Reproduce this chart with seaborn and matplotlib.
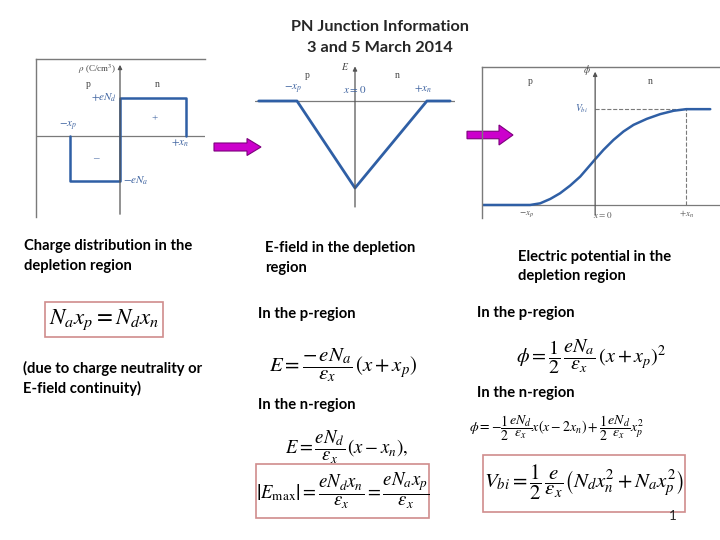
import matplotlib
matplotlib.use("Agg")
import matplotlib.pyplot as plt
import seaborn as sns
from matplotlib.patches import FancyArrow, Rectangle

# charge density (x in units of x_p, rho in units of eN_d)
rho_x = [-1.0, -1.0, 0.0, 0.0, 1.32, 1.32]
rho_y = [0.0, -1.18, -1.18, 1.0, 1.0, 0.0]

# electric field (x in units of x_p, E in units of |E_max|)
e_x = [-1.66, -1.0, 0.0, 1.24, 1.64]
e_y = [0.0, 0.0, -1.0, 0.0, 0.0]

# potential (phi in units of V_bi)
phi_x = [-1.72, -1.0, -0.846, -0.69, -0.54, -0.385, -0.23, -0.128, 0.0, 0.128,
         0.282, 0.436, 0.59, 0.795, 1.0, 1.205, 1.4, 1.77]
phi_y = [0.0, 0.0, 0.017, 0.063, 0.122, 0.202, 0.296, 0.376, 0.477, 0.575,
         0.679, 0.767, 0.836, 0.899, 0.948, 0.983, 1.0, 1.0]

sns.set_theme(style="white")
plt.rcParams['font.family'] = ['Lato', 'DejaVu Sans']
plt.rcParams['mathtext.fontset'] = 'stix'

BLUE = '#2f5fa5'
LBLUE = '#3e63a0'
GRAY = '#7a7a7a'
BOX = '#d08c8c'
SERIF = 'Liberation Serif'

fig = plt.figure(figsize=(7.2, 5.4), dpi=100)
fig.patch.set_facecolor('white')

# overlay in pixel coordinates for slide text, arrows and boxes
ov = fig.add_axes([0, 0, 1, 1])
ov.set_xlim(0, 720)
ov.set_ylim(540, 0)
ov.axis('off')


def px_axes(left, top, right, bottom):
    ax = fig.add_axes([left / 720, 1 - bottom / 540, (right - left) / 720, (bottom - top) / 540])
    ax.set_facecolor('none')
    ax.set_xticks([])
    ax.set_yticks([])
    for s in ax.spines.values():
        s.set_visible(False)
    return ax


def up_arrow(ax, x, y0, y1):
    ax.annotate('', xy=(x, y1), xytext=(x, y0),
                arrowprops=dict(arrowstyle='-|>', color='#555555', lw=0.9, mutation_scale=6))


# ---------------------------------------------------------------- charge
ax1 = px_axes(36, 59, 205, 217)
ax1.set_xlim(-1.68, 1.70)
ax1.set_ylim(-2.13, 2.03)
for s in ['left', 'top']:
    ax1.spines[s].set_visible(True)
    ax1.spines[s].set_color(GRAY)
    ax1.spines[s].set_linewidth(1)
ax1.axhline(0, color=GRAY, lw=0.9)
up_arrow(ax1, 0, -2.13, 1.95)
sns.lineplot(x=rho_x, y=rho_y, sort=False, estimator=None, color=BLUE, lw=1.8, ax=ax1)
ax1.text(-0.08, 1.76, r'$\rho$ (C/cm$^3$)', ha='right', va='center', fontsize=6.5, family=SERIF, color='#444444')
ax1.text(-0.64, 1.37, 'p', ha='center', va='center', fontsize=7, family=SERIF, color='#444444')
ax1.text(0.74, 1.37, 'n', ha='center', va='center', fontsize=7, family=SERIF, color='#444444')
ax1.text(-0.06, 1.0, r'$+eN_d$', ha='right', va='center', fontsize=8, color=LBLUE)
ax1.text(0.7, 0.45, '+', ha='center', va='center', fontsize=8, family=SERIF, color=LBLUE)
ax1.text(-1.04, 0.26, r'$-x_p$', ha='center', va='center', fontsize=8, color=LBLUE)
ax1.text(1.2, -0.2, r'$+x_n$', ha='center', va='center', fontsize=8, color=LBLUE)
ax1.text(-0.48, -0.6, '\u2013', ha='center', va='center', fontsize=8, family=SERIF, color=LBLUE)
ax1.text(0.06, -1.18, r'$-eN_a$', ha='left', va='center', fontsize=8, color=LBLUE)

# ---------------------------------------------------------------- E-field
ax2 = px_axes(255, 60, 455, 215)
ax2.set_xlim(-1.724, 1.724)
ax2.set_ylim(-1.31, 0.471)
ax2.axhline(0, color=GRAY, lw=0.9)
up_arrow(ax2, 0, -1.25, 0.43)
sns.lineplot(x=e_x, y=e_y, sort=False, estimator=None, color=BLUE, lw=2.0, ax=ax2)
ax2.text(-0.1, 0.4, r'$E$', ha='right', va='center', fontsize=7, color='#444444')
ax2.text(-0.83, 0.29, 'p', ha='center', va='center', fontsize=7, family=SERIF, color='#444444')
ax2.text(0.72, 0.29, 'n', ha='center', va='center', fontsize=7, family=SERIF, color='#444444')
ax2.text(-1.07, 0.13, r'$-x_p$', ha='center', va='center', fontsize=8, color=LBLUE)
ax2.text(0.0, 0.13, r'$x = 0$', ha='center', va='center', fontsize=8, color=LBLUE)
ax2.text(1.17, 0.13, r'$+x_n$', ha='center', va='center', fontsize=8, color=LBLUE)

# ---------------------------------------------------------------- potential
ax3 = px_axes(482, 67, 720, 218)
ax3.set_xlim(-1.74, 1.92)
ax3.set_ylim(-0.136, 1.44)
for s in ['left', 'top']:
    ax3.spines[s].set_visible(True)
    ax3.spines[s].set_color(GRAY)
    ax3.spines[s].set_linewidth(1)
ax3.axhline(0, color=GRAY, lw=0.9)
up_arrow(ax3, 0, -0.136, 1.42)
ax3.plot([0, 1.4], [1, 1], ls='--', color=GRAY, lw=0.8)
ax3.plot([1.4, 1.4], [0, 1], ls='--', color=GRAY, lw=0.8)
sns.lineplot(x=phi_x, y=phi_y, sort=False, estimator=None, color=BLUE, lw=1.8, ax=ax3)
ax3.text(-0.06, 1.41, r'$\phi$', ha='right', va='center', fontsize=7, color='#444444')
ax3.text(-1.0, 1.285, 'p', ha='center', va='center', fontsize=7, family=SERIF, color='#444444')
ax3.text(0.85, 1.285, 'n', ha='center', va='center', fontsize=7, family=SERIF, color='#444444')
ax3.text(-0.1, 1.0, r'$V_{bi}$', ha='right', va='center', fontsize=7, color=LBLUE)
ax3.text(-1.05, -0.1, r'$-x_p$', ha='center', va='center', fontsize=6.5, color='#555555')
ax3.text(0.12, -0.1, r'$x = 0$', ha='center', va='center', fontsize=6.5, color='#555555')
ax3.text(1.41, -0.1, r'$+x_n$', ha='center', va='center', fontsize=6.5, color='#555555')

# ---------------------------------------------------------------- slide text
ov.text(380, 27, 'PN Junction Information', ha='center', va='center', fontsize=11.7, fontweight='bold')
ov.text(380, 48, '3 and 5 March 2014', ha='center', va='center', fontsize=11.7, fontweight='bold')

body = dict(ha='left', va='center', fontsize=10.6, fontweight='bold', color='black')
ov.text(24, 246, 'Charge distribution in the', **body)
ov.text(24, 266, 'depletion region', **body)
ov.text(23, 368, '(due to charge neutrality or', **body)
ov.text(23, 388, 'E-field continuity)', **body)
ov.text(265, 248, 'E-field in the depletion', **body)
ov.text(265, 268, 'region', **body)
ov.text(518, 257, 'Electric potential in the', **body)
ov.text(518, 276, 'depletion region', **body)
ov.text(258, 314, 'In the p-region', **body)
ov.text(258, 405, 'In the n-region', **body)
ov.text(477, 313, 'In the p-region', **body)
ov.text(477, 393, 'In the n-region', **body)
ov.text(673, 516, '1', ha='center', va='center', fontsize=9.5)

for x0, y0, w, h in [(45, 302, 118, 35), (256, 464, 173, 54), (483, 455, 202, 57)]:
    ov.add_patch(Rectangle((x0, y0), w, h, fill=False, edgecolor=BOX, lw=1.2))

eq = dict(ha='center', va='center', color='black')
ov.text(104, 320, r'$N_a x_p = N_d x_n$', fontsize=16.5, **eq)
ov.text(343, 365, r'$E = \dfrac{-\,eN_a}{\varepsilon_x}\,(x + x_p)$', fontsize=15, **eq)
ov.text(347, 447, r'$E = \dfrac{eN_d}{\varepsilon_x}\,(x - x_n),$', fontsize=13.5, **eq)
ov.text(343, 491, r'$\left|E_{\mathrm{max}}\right| = \dfrac{eN_d x_n}{\varepsilon_x} = \dfrac{eN_a x_p}{\varepsilon_x}$', fontsize=13.5, **eq)
ov.text(591, 357, r'$\phi = \dfrac{1}{2}\,\dfrac{eN_a}{\varepsilon_x}\,(x + x_p)^2$', fontsize=14.5, **eq)
ov.text(557, 428, r'$\phi = -\dfrac{1}{2}\dfrac{eN_d}{\varepsilon_x}x(x - 2x_n) + \dfrac{1}{2}\dfrac{eN_d}{\varepsilon_x}x_p^2$', fontsize=10, **eq)
ov.text(584, 482, r'$V_{bi} = \dfrac{1}{2}\,\dfrac{e}{\varepsilon_x}\left(N_d x_n^2 + N_a x_p^2\right)$', fontsize=15, **eq)

# ---------------------------------------------------------------- arrows
arrow_kw = dict(length_includes_head=True, facecolor='#cc00cc', edgecolor='#7d007d', lw=0.8)
ov.add_patch(FancyArrow(214, 147, 47, 0, width=8, head_width=17, head_length=14, **arrow_kw))
ov.add_patch(FancyArrow(467, 135, 46, 0, width=7.5, head_width=20, head_length=14, **arrow_kw))

fig.savefig("out.png", dpi=100)
